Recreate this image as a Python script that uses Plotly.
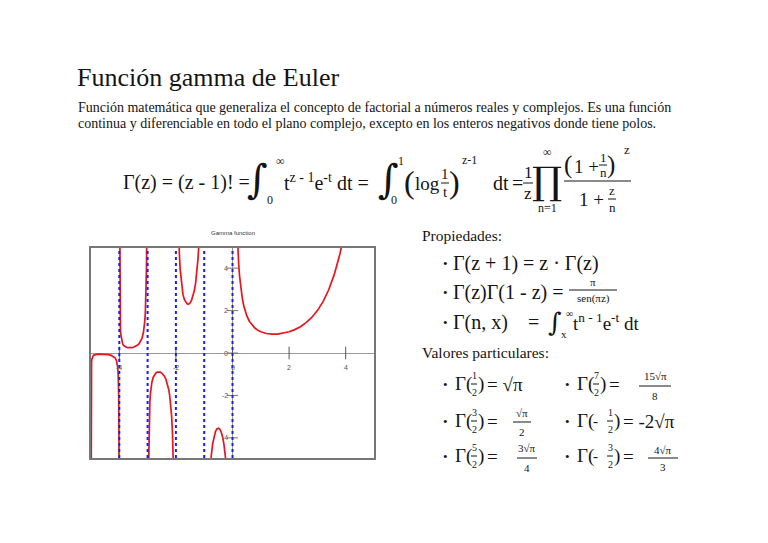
import plotly.graph_objects as go

W, H = 768, 543

# ── Text ─────────────────────────────────────────────────────────────────────
TITLE = "Función gamma de Euler"
INTRO = [
    "Función matemática que generaliza el concepto de factorial a números reales y complejos. Es una función",
    "continua y diferenciable en todo el plano complejo, excepto en los enteros negativos donde tiene polos.",
]
CHART_TITLE = "Gamma function"

# ── Gamma curve, one list pair per branch ───────────────────────────────────
B0_X = [0.15, 0.16, 0.17, 0.18, 0.19, 0.2, 0.22, 0.25, 0.27, 0.3, 0.35, 0.4, 0.45, 0.5,
        0.6, 0.7, 0.8, 0.9, 1.0, 1.2, 1.4, 1.6, 1.8, 2.0, 2.2, 2.4, 2.6, 2.8, 3.0,
        3.2, 3.4, 3.6, 3.8, 3.9, 4.0]
B0_Y = [6.220, 5.811, 5.451, 5.132, 4.847, 4.591, 4.150, 3.626, 3.343, 2.992, 2.546, 2.218, 1.968, 1.772,
        1.489, 1.298, 1.164, 1.069, 1.000, 0.918, 0.887, 0.894, 0.931, 1.000, 1.102, 1.242, 1.430, 1.677, 2.000,
        2.424, 2.981, 3.717, 4.694, 5.299, 6.000]

B1_X = [-0.85, -0.8, -0.78, -0.75, -0.7, -0.65, -0.6, -0.55, -0.5, -0.45, -0.4, -0.35, -0.3, -0.25, -0.2, -0.15]
B1_Y = [-7.318, -5.739, -5.321, -4.834, -4.274, -3.917, -3.697, -3.578, -3.545, -3.591, -3.723, -3.957,
        -4.327, -4.902, -5.821, -7.417]

B2_X = [-1.95, -1.92, -1.9, -1.88, -1.85, -1.8, -1.75, -1.7, -1.65, -1.6, -1.55, -1.5, -1.45, -1.4,
        -1.35, -1.3, -1.25, -1.22, -1.2, -1.18, -1.15]
B2_Y = [10.510, 6.792, 5.564, 4.753, 3.956, 3.188, 2.762, 2.514, 2.374, 2.311, 2.308, 2.363, 2.477, 2.659,
        2.931, 3.328, 3.922, 4.424, 4.851, 5.379, 6.450]

B3_X = [-2.97, -2.96, -2.95, -2.92, -2.9, -2.88, -2.85, -2.8, -2.75, -2.7, -2.65, -2.6, -2.55, -2.5,
        -2.45, -2.4, -2.35, -2.3, -2.25, -2.22, -2.2, -2.18, -2.15, -2.12, -2.1, -2.08]
B3_Y = [-5.777, -4.392, -3.563, -2.326, -1.919, -1.650, -1.388, -1.139, -1.004, -0.931, -0.896, -0.889,
        -0.905, -0.945, -1.011, -1.108, -1.247, -1.447, -1.743, -1.993, -2.205, -2.467, -3.000, -3.809,
        -4.626, -5.859]

B4_X = [-3.995, -3.99, -3.98, -3.97, -3.96, -3.95, -3.92, -3.9, -3.88, -3.85, -3.8, -3.75, -3.7, -3.65,
        -3.6, -3.55, -3.5, -3.45, -3.4, -3.35, -3.3, -3.25, -3.2, -3.15, -3.12, -3.1, -3.08, -3.06,
        -3.04, -3.03]
B4_Y = [8.397, 4.231, 2.148, 1.455, 1.109, 0.902, 0.593, 0.492, 0.425, 0.361, 0.300, 0.268, 0.252, 0.245,
        0.247, 0.255, 0.270, 0.293, 0.326, 0.372, 0.438, 0.536, 0.689, 0.952, 1.221, 1.492, 1.902, 2.590,
        3.972, 5.357]

B5_X = [-4.999, -4.998, -4.995, -4.99, -4.98, -4.97, -4.96, -4.95, -4.92, -4.9, -4.85, -4.8, -4.7, -4.6,
        -4.5, -4.4, -4.3, -4.2, -4.15, -4.1, -4.08, -4.06, -4.04, -4.03, -4.02, -4.01, -4.005]
B5_Y = [-8.33, -4.17, -1.681, -0.848, -0.431, -0.293, -0.224, -0.182, -0.121, -0.100, -0.074, -0.0625,
        -0.0536, -0.0537, -0.0600, -0.0741, -0.1019, -0.1640, -0.2294, -0.3639, -0.4662, -0.638, -0.983,
        -1.329, -2.022, -4.105, -8.24]

POLES = [-4, -3, -2, -1, 0]
X_TICKS = [-4, -2, 0, 2, 4]
Y_TICKS = [-4, -2, 0, 2, 4]

SERIF = "Liberation Serif"
SYMB = "DejaVu Serif"
SANS = "Liberation Sans"
INK = "#141414"

fig = go.Figure()

# ── Curve, poles and the crossing axes ──────────────────────────────────────
for bx, by in [(B5_X, B5_Y), (B4_X, B4_Y), (B3_X, B3_Y), (B2_X, B2_Y), (B1_X, B1_Y), (B0_X, B0_Y)]:
    fig.add_trace(go.Scatter(x=bx, y=by, mode="lines", line=dict(color="#e8151b", width=1.7),
                             hoverinfo="skip"))

fig.add_trace(go.Scatter(x=X_TICKS, y=[0] * len(X_TICKS), mode="markers", hoverinfo="skip",
                         marker=dict(symbol="line-ns", size=9, line=dict(width=1, color="#555"))))
fig.add_trace(go.Scatter(x=[0] * len(Y_TICKS), y=Y_TICKS, mode="markers", hoverinfo="skip",
                         marker=dict(symbol="line-ew", size=8, line=dict(width=1, color="#777"))))

for p in POLES:
    fig.add_vline(x=p, line=dict(color="#1a1aff", width=2, dash="dot"))

for v in X_TICKS:
    fig.add_annotation(x=v, y=0, yshift=-14, text=str(v), showarrow=False,
                       font=dict(family=SANS, size=7, color="#555"))
for v in Y_TICKS:
    fig.add_annotation(x=0, y=v, xshift=-3, xanchor="right", text=str(v), showarrow=False,
                       font=dict(family=SANS, size=7, color="#555"))


# ── Slide text helpers (pixel positions on the 768x543 page) ────────────────
def put(x, y, s, size=19, anchor="left", font=SERIF, color=INK):
    fig.add_annotation(x=x / W, y=1 - y / H, xref="paper", yref="paper", text=s, showarrow=False,
                       xanchor=anchor, yanchor="middle", borderpad=0,
                       font=dict(family=font, size=size, color=color))


def bar(x0, x1, y, width=1):
    fig.add_shape(type="line", xref="paper", yref="paper", x0=x0 / W, x1=x1 / W,
                  y0=1 - y / H, y1=1 - y / H, line=dict(color=INK, width=width))


def frac(xc, yb, num, den, size=13, gap=9, half=5):
    put(xc, yb - gap, num, size=size, anchor="center")
    put(xc, yb + gap, den, size=size, anchor="center")
    bar(xc - half, xc + half, yb)


put(233, 233, CHART_TITLE, size=6, anchor="center", font=SANS, color="#333")

# title + intro
put(76, 78, TITLE, size=26)
put(77, 107, INTRO[0], size=14)
put(77, 124, INTRO[1], size=14)

# ── Main formula ────────────────────────────────────────────────────────────
put(122, 182, "Γ(z) = (z - 1)! =", size=20)
put(257, 179, "∫", size=40, anchor="center", font=SYMB)
put(280, 161, "∞", size=12, anchor="center")
put(270, 200, "0", size=12, anchor="center")
put(283, 182, "t<sup>z - 1</sup>e<sup>-t</sup> dt =", size=20)

put(388, 179, "∫", size=40, anchor="center", font=SYMB)
put(401, 161, "1", size=12, anchor="center")
put(394, 200, "0", size=12, anchor="center")
put(409, 182, "(", size=32, anchor="center")
put(414, 183, "log", size=19)
frac(445, 183, "1", "t", size=15, gap=9, half=4)
put(454, 182, ")", size=32, anchor="center")
put(469, 160, "z-1", size=12, anchor="center")
put(492, 183, "dt", size=20)
put(511, 183, "=", size=20)
frac(528, 183, "1", "z", size=17, gap=10, half=5)

put(547, 181, "∏", size=38, anchor="center", font=SYMB)
put(547, 152, "∞", size=12, anchor="center")
put(547, 208, "n=1", size=12, anchor="center")

put(568, 165, "(", size=25, anchor="center")
put(573, 166, "1 +", size=19)
frac(603, 165, "1", "n", size=13, gap=8, half=4)
put(611, 165, ")", size=25, anchor="center")
put(627, 150, "z", size=13, anchor="center")
bar(564, 631, 181)
put(578, 199, "1 +", size=19)
frac(612, 199, "z", "n", size=13, gap=8.5, half=4)

# ── Properties ──────────────────────────────────────────────────────────────
put(421, 235, "Propiedades:", size=15.5)
for yy in [263, 292, 322]:
    put(445, yy, "•", size=13, anchor="center")
put(452, 263, "Γ(z + 1) = z · Γ(z)", size=20)
put(452, 292, "Γ(z)Γ(1 - z) =", size=20)
frac(593, 290, "π", "sen(πz)", size=11, gap=8.5, half=24)
put(452, 322, "Γ(n, x)", size=20)
put(527, 322, "=", size=20)
put(555, 322, "∫", size=26, anchor="center", font=SYMB)
put(569, 313, "∞", size=10, anchor="center")
put(564, 334, "x", size=11, anchor="center")
put(572, 322, "t<sup>n - 1</sup>e<sup>-t</sup> dt", size=19)

# ── Particular values ───────────────────────────────────────────────────────
put(421, 352, "Valores particulares:", size=15.5)


def gamma_half(x0, y, num, neg=False):
    put(x0 - 9, y, "•", size=13, anchor="center")
    put(x0, y, "Γ(", size=19)
    xc = x0 + 20
    if neg:
        put(x0 + 16, y, "-", size=15)
        xc = x0 + 34
    frac(xc, y, num, "2", size=10, gap=8.5, half=3)
    put(xc + 3, y, ")", size=19)
    return xc + 12


e = gamma_half(454, 384, "1")
put(e, 384, "= √π", size=19)
e = gamma_half(576, 384, "7")
put(e, 384, "=", size=19)
frac(655, 386, "15√π", "8", size=11, gap=10, half=16)

e = gamma_half(454, 421, "3")
put(e, 421, "=", size=19)
frac(522, 422, "√π", "2", size=11, gap=9.5, half=9)
e = gamma_half(576, 421, "1", neg=True)
put(e, 421, "= -2√π", size=19)

e = gamma_half(454, 456, "5")
put(e, 456, "=", size=19)
frac(527, 458, "3√π", "4", size=11, gap=9.5, half=10)
e = gamma_half(576, 456, "3", neg=True)
put(e, 456, "=", size=19)
frac(663, 458, "4√π", "3", size=11, gap=8.5, half=15)

# ── Layout ──────────────────────────────────────────────────────────────────
fig.update_layout(
    width=W, height=H,
    margin=dict(l=0, r=0, t=0, b=0),
    paper_bgcolor="white", plot_bgcolor="white",
    showlegend=False,
    xaxis=dict(domain=[91 / W, 374 / W], range=[-5, 5], showticklabels=False, ticks="",
               showgrid=False, zeroline=True, zerolinecolor="#999", zerolinewidth=1,
               showline=True, mirror=True, linecolor="#777", linewidth=1.5),
    yaxis=dict(domain=[1 - 458 / H, 1 - 248 / H], range=[-4.95, 4.95], showticklabels=False, ticks="",
               showgrid=False, zeroline=True, zerolinecolor="#999", zerolinewidth=1,
               showline=True, mirror=True, linecolor="#777", linewidth=1.5),
)

fig.write_html("out.html", config={"displayModeBar": False},
               post_script="document.body.style.margin='0';")
